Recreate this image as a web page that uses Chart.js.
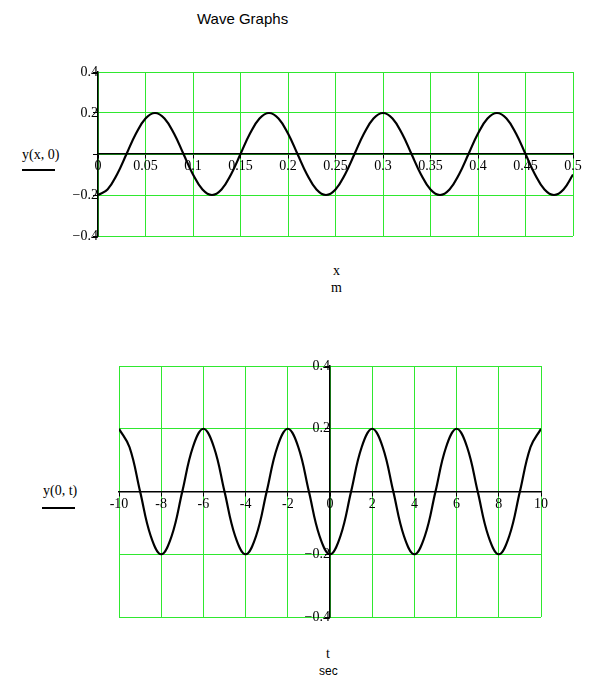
<!DOCTYPE html>
<html><head><meta charset="utf-8">
<script src="https://cdn.jsdelivr.net/npm/chart.js@4"></script>
<style>
body{margin:0;background:#fff;width:599px;height:681px;position:relative;overflow:hidden}
canvas{position:absolute;left:0}
.t{position:absolute;font-family:"Liberation Serif",serif;font-size:14px;color:#000;white-space:nowrap}
.s{position:absolute;font-family:"Liberation Sans",Arial,sans-serif;color:#000;white-space:nowrap}
.u{position:absolute;height:2px;background:#000}
</style></head><body>
<div class="s" style="left:197px;top:10px;font-size:15px">Wave Graphs</div>
<div class="t" style="left:22px;top:147px">y(x, 0)</div><div class="u" style="left:22px;top:169px;width:33px"></div>
<div class="t" style="left:333px;top:263px">x</div>
<div class="t" style="left:331px;top:280px">m</div>
<div class="t" style="left:43px;top:483px">y(0, t)</div><div class="u" style="left:42px;top:507px;width:33px"></div>
<div class="t" style="left:326px;top:646px">t</div>
<div class="s" style="left:319px;top:664px;font-size:12px">sec</div>
<canvas id="c1" width="599" height="340" style="top:0"></canvas>
<canvas id="c2" width="599" height="341" style="top:340px"></canvas>
<script>
const xValues=[0,0.01,0.02,0.03,0.04,0.05,0.06,0.07,0.08,0.09,0.1,0.11,0.12,0.13,0.14,0.15,0.16,0.17,0.18,0.19,0.2,0.21,0.22,0.23,0.24,0.25,0.26,0.27,0.28,0.29,0.3,0.31,0.32,0.33,0.34,0.35,0.36,0.37,0.38,0.39,0.4,0.41,0.42,0.43,0.44,0.45,0.46,0.47,0.48,0.49,0.5];
const yOfX=[-0.2,-0.173,-0.1,0,0.1,0.173,0.2,0.173,0.1,0,-0.1,-0.173,
-0.2,-0.173,-0.1,0,0.1,0.173,0.2,0.173,0.1,0,-0.1,-0.173,
-0.2,-0.173,-0.1,0,0.1,0.173,0.2,0.173,0.1,0,-0.1,-0.173,
-0.2,-0.173,-0.1,0,0.1,0.173,0.2,0.173,0.1,0,-0.1,-0.173,
-0.2,-0.173,-0.1];
const tValues=[-10,-9.5,-9,-8.5,-8,-7.5,-7,-6.5,-6,-5.5,-5,-4.5,-4,-3.5,-3,-2.5,-2,-1.5,-1,-0.5,0,0.5,1,1.5,2,2.5,3,3.5,4,4.5,5,5.5,6,6.5,7,7.5,8,8.5,9,9.5,10];
const yOfT=[0.2,0.141,0,-0.141,-0.2,-0.141,0,0.141,
0.2,0.141,0,-0.141,-0.2,-0.141,0,0.141,
0.2,0.141,0,-0.141,-0.2,-0.141,0,0.141,
0.2,0.141,0,-0.141,-0.2,-0.141,0,0.141,
0.2,0.141,0,-0.141,-0.2,-0.141,0,0.141,0.2];
const yTicks=[-0.4,-0.2,0,0.2,0.4];

const GREEN='#2fe82f';
const fmt=(v,minus)=>{const s=String(Number(v.toFixed(3)));return minus?s.replace('-','\u2212'):s;};
const font={family:'"Liberation Serif", serif',size:14};
function make(id,xs,ys,xr,step,pad,xMinus){
  new Chart(document.getElementById(id),{
    type:'scatter',
    data:{datasets:[{data:xs.map((x,i)=>({x,y:ys[i]})),showLine:true,borderColor:'#000',borderWidth:2.2,pointRadius:0,tension:0.4,fill:false}]},
    options:{responsive:false,animation:false,layout:{padding:pad},
      plugins:{legend:{display:false},tooltip:{enabled:false}},
      scales:{
        x:{type:'linear',min:xr[0],max:xr[1],position:{y:0},
          afterFit:s=>{s.height=0;},
          afterBuildTicks:s=>{const t=[];for(let v=xr[0];v<=xr[1]+1e-9;v+=step)t.push({value:Number(v.toFixed(3))});s.ticks=t;},
          grid:{color:GREEN,lineWidth:1,drawTicks:true,tickLength:4,tickColor:'#000'},
          border:{color:'#000',width:1.5},
          ticks:{color:'#000',font,padding:0,maxRotation:0,autoSkip:false,callback:v=>fmt(v,xMinus)}},
        y:{type:'linear',min:-0.4,max:0.4,position:{x:0},
          afterFit:s=>{s.width=0;},
          afterBuildTicks:s=>{s.ticks=yTicks.map(v=>({value:v}));},
          grid:{color:GREEN,lineWidth:1,drawTicks:true,tickLength:4,tickColor:'#000'},
          border:{color:'#000',width:1.5},
          ticks:{color:'#000',font,padding:2,callback:v=>Math.abs(v)<1e-9?'':fmt(v,true)}}
      }}
  });
}
make('c1',xValues,yOfX,[0,0.5],0.05,{left:98,right:26,top:72,bottom:104},true);
make('c2',tValues,yOfT,[-10,10],2,{left:119,right:58,top:26,bottom:64},false);
</script></body></html>
